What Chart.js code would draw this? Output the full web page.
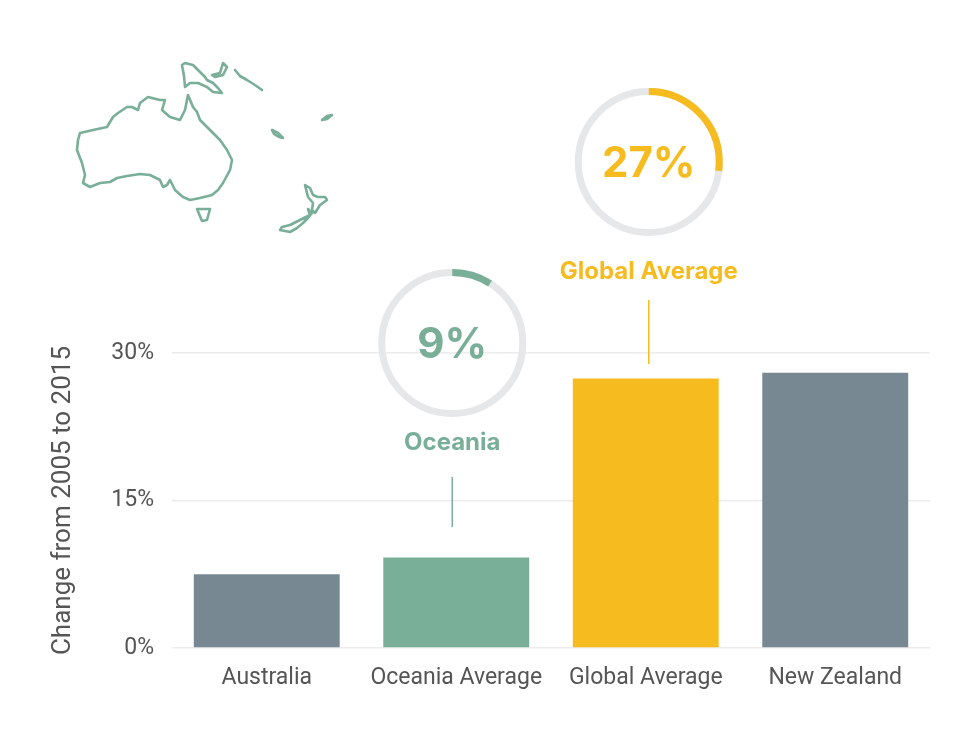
<!DOCTYPE html>
<html>
<head>
<meta charset="utf-8">
<script src="https://cdn.jsdelivr.net/npm/chart.js@4"></script>
<style>
  html, body { margin: 0; padding: 0; background: #ffffff; }
  #wrap { width: 980px; height: 733px; position: relative; }
</style>
</head>
<body>
<div id="wrap"><canvas id="chart"></canvas></div>
<script>
// 数据
const categories = ['Australia', 'Oceania Average', 'Global Average', 'New Zealand'];
const changeValues = [7.5, 9.2, 27.4, 28.0];
const barColors = ['#778892', '#79ae98', '#f6bc1f', '#778892'];
const yTicks = [0, 15, 30];
const axisTitle = 'Change from 2005 to 2015';

// 圆环标注（对应柱子索引）
const callouts = [
  { index: 1, label: 'Oceania', ringValue: 9, color: '#79ae98' },
  { index: 2, label: 'Global Average', ringValue: 27, color: '#f6bc1f' }
];
// 圆环/文字/连线在画布上的位置
const calloutLayout = [
  { dx: -4, ringY: 343, labelY: 443, lineTop: 477, lineBottom: 527 },
  { dx: 3, ringY: 162, labelY: 272, lineTop: 300, lineBottom: 364 }
];

// 大洋洲地图轮廓（装饰）
const mapShapes = [
  [[80,133],[93,130],[107,127],[113,117],[118,113],[127,107],[132,107],[138,110],[140,103],[148,97],[152,98],[160,100],[165,100],[162,110],[170,117],[180,120],[185,110],[188,95],[193,107],[197,112],[200,120],[205,125],[213,133],[220,140],[227,150],[232,160],[230,170],[223,183],[218,190],[212,195],[200,198],[190,200],[183,197],[175,190],[170,180],[167,185],[163,187],[160,180],[150,175],[140,174],[127,176],[117,178],[110,182],[100,183],[90,187],[83,183],[85,175],[82,163],[77,150],[78,140]],
  [[197,209],[210,209],[207,220],[202,221]],
  [[182,65],[185,63],[193,65],[200,72],[205,77],[207,80],[213,83],[218,88],[222,93],[213,92],[207,87],[198,83],[190,83],[185,87],[184,76]],
  [[212,75],[220,73],[223,63],[227,67],[223,75],[215,77]],
  [[272,130],[278,133],[283,138],[279,137],[274,134]],
  [[322,120],[327,116],[332,115],[327,119]],
  [[305,185],[310,188],[313,195],[318,197],[325,197],[327,200],[320,205],[315,213],[312,210],[313,203],[308,197]],
  [[308,209],[310,215],[300,220],[290,225],[282,227],[280,230],[290,232],[297,228],[303,223],[308,218],[312,213]]
];
const mapLines = [
  [[235,70],[240,76],[247,80],[255,85],[262,90]]
];

const decorPlugin = {
  id: 'decor',
  afterDatasetsDraw(chart) {
    const ctx = chart.ctx;
    const meta = chart.getDatasetMeta(0);
    ctx.save();

    // 地图
    ctx.strokeStyle = '#79ae98';
    ctx.lineWidth = 2.6;
    ctx.lineJoin = 'round';
    ctx.lineCap = 'round';
    mapShapes.forEach(shape => {
      ctx.beginPath();
      shape.forEach((p, i) => i ? ctx.lineTo(p[0], p[1]) : ctx.moveTo(p[0], p[1]));
      ctx.closePath();
      ctx.stroke();
    });
    mapLines.forEach(line => {
      ctx.beginPath();
      line.forEach((p, i) => i ? ctx.lineTo(p[0], p[1]) : ctx.moveTo(p[0], p[1]));
      ctx.stroke();
    });

    // 圆环 + 标签 + 连线
    callouts.forEach((c, k) => {
      const lay = calloutLayout[k];
      const x = meta.data[c.index].x + lay.dx;
      const r = 70.5;
      ctx.lineCap = 'butt';
      ctx.lineWidth = 7;
      ctx.strokeStyle = '#e6e7e8';
      ctx.beginPath();
      ctx.arc(x, lay.ringY, r, 0, Math.PI * 2);
      ctx.stroke();
      const start = -Math.PI / 2;
      ctx.strokeStyle = c.color;
      ctx.beginPath();
      ctx.arc(x, lay.ringY, r, start, start + Math.PI * 2 * c.ringValue / 100);
      ctx.stroke();

      ctx.fillStyle = c.color;
      ctx.textAlign = 'center';
      ctx.textBaseline = 'middle';
      ctx.font = '700 42px Inter';
      ctx.fillText(c.ringValue + '%', x, lay.ringY + 2);
      ctx.font = '700 24px Inter';
      ctx.fillText(c.label, x, lay.labelY);

      ctx.strokeStyle = c.color;
      ctx.lineWidth = 1.5;
      ctx.beginPath();
      ctx.moveTo(x, lay.lineTop);
      ctx.lineTo(x, lay.lineBottom);
      ctx.stroke();
    });
    ctx.restore();
  }
};

new Chart(document.getElementById('chart').getContext('2d'), {
  type: 'bar',
  data: {
    labels: categories,
    datasets: [{
      data: changeValues,
      backgroundColor: barColors,
      borderWidth: 0,
      barPercentage: 0.77,
      categoryPercentage: 1
    }]
  },
  options: {
    responsive: true,
    maintainAspectRatio: false,
    animation: false,
    devicePixelRatio: 1,
    layout: { padding: { top: 353, left: 40, right: 50, bottom: 0 } },
    plugins: {
      legend: { display: false },
      tooltip: { enabled: false }
    },
    scales: {
      x: {
        grid: { display: false },
        border: { display: false },
        ticks: {
          color: '#555555',
          font: { family: 'Roboto', size: 23 },
          padding: 8,
          maxRotation: 0
        },
        afterFit: (scale) => { scale.height = 85; }
      },
      y: {
        min: 0,
        max: 30,
        afterBuildTicks: (scale) => { scale.ticks = yTicks.map(v => ({ value: v })); },
        grid: { color: '#ececec', lineWidth: 1.5, drawTicks: false },
        border: { display: false },
        ticks: {
          color: '#555555',
          font: { family: 'Roboto', size: 23 },
          padding: 18,
          callback: (v) => v + '%'
        },
        title: {
          display: true,
          text: axisTitle,
          color: '#555555',
          font: { family: 'Roboto', size: 26 },
          padding: { top: 8, bottom: 0 }
        },
        afterFit: (scale) => { scale.width = 132; }
      }
    }
  },
  plugins: [decorPlugin]
});
</script>
</body>
</html>
